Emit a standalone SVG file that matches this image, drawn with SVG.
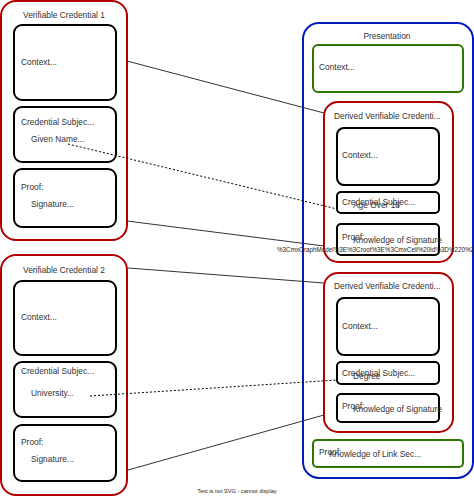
<svg xmlns="http://www.w3.org/2000/svg" width="474" height="496" viewBox="0 0 474 496">
<style>
text{font-family:"Liberation Sans",Arial,sans-serif;font-size:8.4px;fill:#333}
.red{fill:#fff;stroke:#B20000;stroke-width:2}
.blk{fill:#fff;stroke:#000;stroke-width:2}
.grn{fill:#fff;stroke:#2D7600;stroke-width:2}
.blu{fill:#fff;stroke:#001DBC;stroke-width:2}
.mid{text-anchor:middle}
.ln{stroke:#333;stroke-width:1;fill:none}
.dot{stroke:#000;stroke-width:1;fill:none;stroke-dasharray:2 2}
</style>
<g id="presentation">
<rect class="blu" x="303" y="23" width="170" height="455" rx="16"/>
<text class="mid" x="387" y="39">Presentation</text>
</g>
<g id="pres-context">
<rect class="grn" x="313" y="45" width="150" height="47" rx="5"/>
<text x="319" y="70">Context...</text>
</g>
<g id="dvc1">
<rect class="red" x="324" y="102" width="129" height="160" rx="14"/>
<text x="334" y="119">Derived Verifiable Credenti...</text>
</g>
<g id="dvc1-context">
<rect class="blk" x="337" y="128" width="102" height="57" rx="7"/>
<text x="342" y="158">Context...</text>
</g>
<g id="dvc1-subject">
<rect class="blk" x="337" y="192" width="102" height="21" rx="4"/>
<text x="342" y="205">Credential Subjec...</text>
<text x="353" y="208">Age Over 18</text>
</g>
<g id="dvc1-proof">
<rect class="blk" x="337" y="224" width="102" height="31" rx="4"/>
<text x="342" y="240">Proof:</text>
<text x="353" y="243">Knowledge of Signature</text>
</g>
<g id="dvc2">
<rect class="red" x="324" y="273" width="129" height="159" rx="14"/>
<text x="334" y="289">Derived Verifiable Credenti...</text>
</g>
<g id="dvc2-context">
<rect class="blk" x="337" y="298" width="102" height="57" rx="7"/>
<text x="342" y="329">Context...</text>
</g>
<g id="dvc2-subject">
<rect class="blk" x="337" y="362" width="102" height="22" rx="4"/>
<text x="342" y="376">Credential Subjec...</text>
<text x="353" y="379">Degree</text>
</g>
<g id="dvc2-proof">
<rect class="blk" x="337" y="394" width="102" height="28" rx="4"/>
<text x="342" y="409">Proof:</text>
<text x="353" y="412">Knowledge of Signature</text>
</g>
<g id="pres-proof">
<rect class="grn" x="313" y="440" width="150" height="27" rx="4"/>
<text x="319" y="455">Proof:</text>
<text x="329" y="457">Knowledge of Link Sec...</text>
</g>
<g id="vc1">
<rect class="red" x="1" y="1" width="126" height="239" rx="15"/>
<text class="mid" x="64" y="18">Verifiable Credential 1</text>
</g>
<g id="vc1-context">
<rect class="blk" x="14" y="25" width="102" height="75" rx="8"/>
<text x="21" y="65">Context...</text>
</g>
<g id="vc1-subject">
<rect class="blk" x="14" y="107" width="102" height="55" rx="8"/>
<text x="21" y="125">Credential Subjec...</text>
<text x="31" y="142">Given Name...</text>
</g>
<g id="vc1-proof">
<rect class="blk" x="14" y="169" width="102" height="58" rx="8"/>
<text x="21" y="190">Proof:</text>
<text x="31" y="207">Signature...</text>
</g>
<g id="vc2">
<rect class="red" x="1" y="255" width="126" height="240" rx="15"/>
<text class="mid" x="64" y="273">Verifiable Credential 2</text>
</g>
<g id="vc2-context">
<rect class="blk" x="14" y="281" width="102" height="74" rx="8"/>
<text x="21" y="320">Context...</text>
</g>
<g id="vc2-subject">
<rect class="blk" x="14" y="362" width="102" height="55" rx="8"/>
<text x="21" y="374">Credential Subjec...</text>
<text x="31" y="396">University...</text>
</g>
<g id="vc2-proof">
<rect class="blk" x="14" y="425" width="102" height="56" rx="8"/>
<text x="21" y="445">Proof:</text>
<text x="31" y="462">Signature...</text>
</g>
<g id="connectors">
<line class="ln" x1="127" y1="61" x2="324" y2="113"/>
<line class="dot" x1="68" y1="144" x2="337" y2="209"/>
<line class="ln" x1="127" y1="221" x2="324" y2="246"/>
<line class="ln" x1="128" y1="268" x2="324" y2="283"/>
<line class="dot" x1="90" y1="396" x2="337" y2="380"/>
<line class="ln" x1="128" y1="470" x2="324" y2="415"/>
</g>
<text x="277" y="252" style="font-size:6.3px;fill:#222">%3CmxGraphModel%3E%3Croot%3E%3CmxCell%20id%3D%220%22%2F%3E</text>
<text class="mid" x="237" y="493" style="font-size:5.6px;fill:#222">Text is not SVG - cannot display</text>
</svg>
